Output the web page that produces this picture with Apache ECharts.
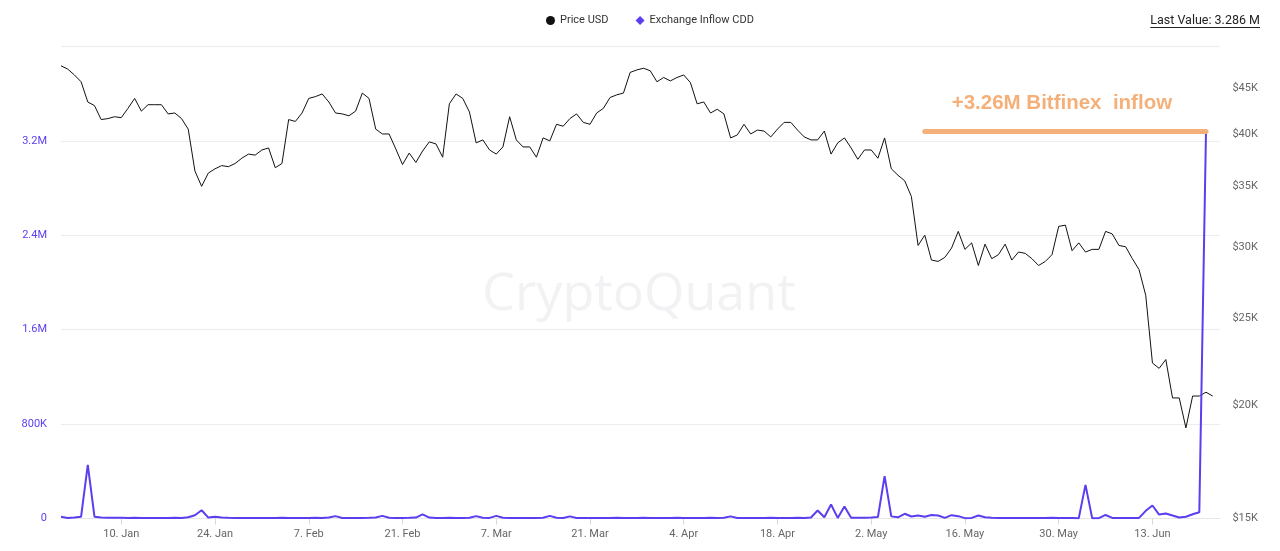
<!DOCTYPE html>
<html><head><meta charset="utf-8">
<script src="https://cdn.jsdelivr.net/npm/echarts@6/dist/echarts.min.js"></script>
<style>html,body{margin:0;padding:0;background:#fff}#c{width:1280px;height:551px}</style>
</head><body><div id="c"></div>
<script>
// ---- data ----
const startDate = [2022, 0, 1];      // 1 Jan 2022
const dayCount = 174;                // 1 Jan .. 23 Jun 2022 (axis extent)
const monthNames = ['Jan','Feb','Mar','Apr','May','Jun'];
const tickLabels = ['10. Jan','24. Jan','7. Feb','21. Feb','7. Mar','21. Mar','4. Apr','18. Apr','2. May','16. May','30. May','13. Jun'];
const leftTickLabels = {0:'0', 800000:'800K', 1600000:'1.6M', 2400000:'2.4M', 3200000:'3.2M', 4000000:''};
const rightTickValues = [15000, 20000, 25000, 30000, 35000, 40000, 45000];

const priceJan = [47600,47200,46500,45700,43400,43000,41500,41600,41800,41700,42700,43800,42400,43100,43100,43100,42100,42200,41600,40500,36400,35000,36200,36600,36900,36800,37100,37600,38000,37900,38400];
const priceFeb = [38600,36700,37100,41500,41300,42200,43800,44000,44300,43400,42200,42100,41900,42400,44400,43800,40500,40000,40000,38500,37000,38100,37200,38300,39200,39000,37700,43200];
const priceMar = [44300,43800,42300,39100,39400,38400,38000,38700,41800,39400,38700,38700,37700,39600,39300,41000,40800,41600,42100,41200,41000,42200,42700,43900,44200,44400,46800,47100,47300,47000,45700];
const priceApr = [46200,45800,46200,46500,45600,43200,43400,42200,42600,42100,39600,39900,41000,40000,40400,40300,39700,40500,41200,41200,40400,39700,39400,39400,40300,38000,39100,39600,38600,37500];
const priceMay = [38400,38400,37600,39600,36600,36000,35500,34100,30100,30900,29000,28900,29200,29900,31200,29800,30300,28600,30200,29100,29400,30200,29000,29600,29500,29100,28600,28900,29400,31600,31700];
const priceJun = [29700,30300,29600,29800,29800,31200,31000,30100,30000,29100,28300,26500,22300,22000,22500,20400,20400,18900,20500,20500,20700,20500];

const inflowJan = [15000,5000,8000,15000,455000,15000,8000,6000,7000,6000,5000,6000,5000,4000,5000,4000,5000,6000,5000,10000,28000,70000,8000,15000,8000,6000,5000,5000,4000,4000,5000];
const inflowFeb = [5000,5000,6000,5000,5000,4000,5000,6000,5000,8000,20000,5000,5000,4000,5000,6000,8000,22000,6000,5000,5000,6000,8000,35000,8000,5000,5000,6000];
const inflowMar = [5000,5000,6000,20000,6000,5000,22000,6000,5000,5000,5000,4000,5000,6000,22000,6000,5000,18000,5000,5000,5000,4000,5000,5000,6000,5000,4000,5000,6000,5000,5000];
const inflowApr = [5000,5000,6000,5000,5000,4000,5000,6000,5000,6000,18000,5000,5000,4000,5000,5000,6000,5000,5000,5000,6000,5000,8000,68000,10000,119000,5000,102000,6000,6000];
const inflowMay = [6000,8000,12000,359000,18000,10000,40000,17000,25000,15000,30000,25000,5000,28000,20000,3000,5000,25000,10000,6000,5000,5000,4000,5000,5000,4000,5000,5000,6000,5000,5000];
const inflowJun = [5000,3000,285000,3000,3000,30000,5000,5000,5000,5000,5000,65000,110000,33000,42000,25000,8000,15000,36000,53000,3286000];

const lastValueText = 'Last Value: 3.286 M';
const noteText = '+3.26M Bitfinex  inflow';
const noteLine = [[129, 3285000], [171, 3285000]];  // [category index, value]
const notePoint = [150, 3515000];

// ---- build ----
const categories = [];
for (let i = 0; i < dayCount; i++) {
  const d = new Date(startDate[0], startDate[1], startDate[2] + i);
  categories.push(d.getDate() + '. ' + monthNames[d.getMonth()]);
}
const price = [].concat(priceJan, priceFeb, priceMar, priceApr, priceMay, priceJun);
const inflow = [].concat(inflowJan, inflowFeb, inflowMar, inflowApr, inflowMay, inflowJun);

const showTick = (idx, val) => tickLabels.indexOf(val) >= 0;
const FONT = 'Roboto, "Noto Sans", sans-serif';
const BLUE = '#5a3ef0';
const ORANGE = '#f5b07a';

const mc = document.createElement('canvas').getContext('2d');
mc.font = '12.5px Roboto';
const lvW = mc.measureText(lastValueText).width;

const chart = echarts.init(document.getElementById('c'), null, {renderer: 'canvas'});
chart.setOption({
  animation: false,
  backgroundColor: '#fff',
  textStyle: {fontFamily: FONT},
  grid: {left: 61, right: 60.6, top: 46.5, bottom: 32.5, outerBoundsMode: 'none', containLabel: false},
  legend: {
    top: 10, left: 541, itemGap: 27, itemWidth: 9, itemHeight: 9,
    textStyle: {color: '#333', fontSize: 11, fontFamily: FONT},
    data: [{name: 'Price USD', icon: 'circle'}, {name: 'Exchange Inflow CDD', icon: 'diamond'}]
  },
  xAxis: {
    type: 'category', data: categories, boundaryGap: false,
    axisLine: {lineStyle: {color: '#e6e6e6'}},
    axisTick: {interval: showTick, length: 6, lineStyle: {color: '#d8d8d8'}},
    axisLabel: {interval: showTick, color: '#666', fontSize: 11, margin: 10, fontFamily: FONT},
    splitLine: {show: false}
  },
  yAxis: [
    {
      type: 'value', min: 0, max: 4000000, interval: 800000, position: 'left',
      axisLine: {show: false}, axisTick: {show: false},
      axisLabel: {color: BLUE, fontSize: 11, margin: 14, fontFamily: FONT, padding: [4, 0, 0, 0],
        formatter: v => (leftTickLabels[v] !== undefined ? leftTickLabels[v] : '')},
      splitLine: {lineStyle: {color: '#ececec', width: 1}}
    },
    {
      type: 'log', logBase: 10, min: 15000, max: 50000, position: 'right',
      axisLine: {show: false}, axisTick: {show: false},
      axisLabel: {color: '#666', fontSize: 11, margin: 13, fontFamily: FONT, padding: [3, 0, 0, 0],
        customValues: rightTickValues,
        formatter: v => '$' + Math.round(v / 1000) + 'K'},
      splitLine: {show: false}
    }
  ],
  graphic: [
    {type: 'text', x: 639, y: 295, z: 0, silent: true,
     style: {text: 'CryptoQuant', fontSize: 52, fontFamily: '"Open Sans"', fill: '#f2f2f4',
             textAlign: 'center', textVerticalAlign: 'middle'}},
    {type: 'text', x: 1260, y: 21, z: 10,
     style: {text: lastValueText, fontSize: 12.5, fontFamily: 'Roboto', fill: '#222',
             textAlign: 'right', textVerticalAlign: 'middle'}},
    {type: 'line', z: 10, shape: {x1: 1260 - lvW, y1: 27.5, x2: 1260, y2: 27.5},
     style: {stroke: '#222', lineWidth: 1}}
  ],
  series: [
    {
      name: 'Price USD', type: 'line', yAxisIndex: 1, data: price,
      showSymbol: false, symbol: 'none', color: '#111',
      lineStyle: {width: 1, color: '#111'}, z: 3
    },
    {
      name: 'Exchange Inflow CDD', type: 'line', yAxisIndex: 0, data: inflow,
      showSymbol: false, symbol: 'none', color: BLUE,
      lineStyle: {width: 2, color: BLUE}, z: 4,
      markLine: {
        silent: true, symbol: ['none', 'none'],
        lineStyle: {color: ORANGE, width: 5, type: 'solid', cap: 'round', opacity: 1},
        label: {show: false},
        data: [[{coord: noteLine[0]}, {coord: noteLine[1]}]]
      },
      markPoint: {
        silent: true, symbol: 'circle', symbolSize: 1,
        itemStyle: {color: 'rgba(0,0,0,0)'},
        label: {show: true, position: 'inside', offset: [-3.5, 0], formatter: noteText, color: ORANGE,
                fontSize: 20.5, fontWeight: 'bold', fontFamily: '"Liberation Sans", Arial, sans-serif'},
        data: [{coord: notePoint}]
      }
    }
  ]
});
</script></body></html>
